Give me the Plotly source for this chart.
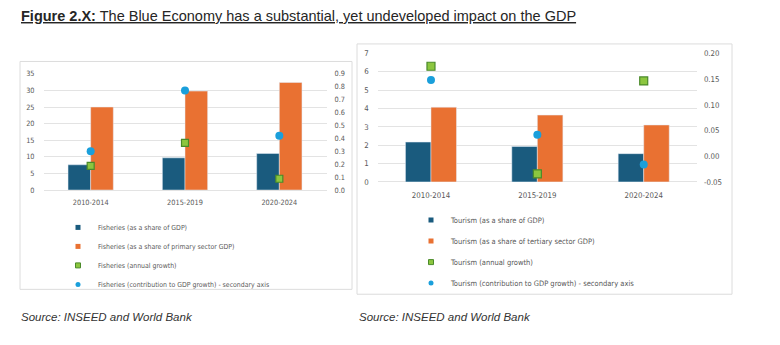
import plotly.graph_objects as go

# ---------------- data ----------------
periods = ["2010-2014", "2015-2019", "2020-2024"]

fish_share_gdp = [7.6, 9.7, 11.0]
fish_share_primary = [25.0, 29.8, 32.4]
fish_growth = [7.3, 14.2, 3.4]
fish_contrib = [0.30, 0.77, 0.42]          # secondary axis

tour_share_gdp = [2.17, 1.93, 1.54]
tour_share_tertiary = [4.07, 3.64, 3.10]
tour_growth = [6.3, 0.44, 5.5]
tour_contrib = [0.148, 0.042, -0.016]      # secondary axis

fish_names = ["Fisheries (as a share of GDP)",
              "Fisheries (as a share of primary sector GDP)",
              "Fisheries (annual growth)",
              "Fisheries (contribution to GDP growth) - secondary axis"]
tour_names = ["Tourism (as a share of GDP)",
              "Tourism (as a share of tertiary sector GDP)",
              "Tourism (annual growth)",
              "Tourism (contribution to GDP growth) - secondary axis"]

# tick labels
fish_y1_ticks = [0, 5, 10, 15, 20, 25, 30, 35]
fish_y2_ticks = [0.0, 0.1, 0.2, 0.3, 0.4, 0.5, 0.6, 0.7, 0.8, 0.9]
fish_y2_text = ["0.0", "0.1", "0.2", "0.3", "0.4", "0.5", "0.6", "0.7", "0.8", "0.9"]
tour_y1_ticks = [0, 1, 2, 3, 4, 5, 6, 7]
tour_y2_ticks = [-0.05, 0.0, 0.05, 0.10, 0.15, 0.20]
tour_y2_text = ["-0.05", "0.00", "0.05", "0.10", "0.15", "0.20"]

title_bold = "Figure 2.X:"
title_rest = "The Blue Economy has a substantial, yet undeveloped impact on the GDP"
source_text = "Source: INSEED and World Bank"

# ---------------- style ----------------
W, H = 780, 345
C_BLUE = "#1A5B7E"
C_ORANGE = "#E97132"
C_GREEN = "#8CC63F"
C_GREEN_LINE = "#4A8A2A"
C_LBLUE = "#1A9FDB"
NARROW = "DejaVu Sans Condensed, Liberation Sans Narrow, sans-serif"
TICK = "#595959"
GRID = "#E3E3E3"


def px_x(v):
    return v / W


def px_y(v):
    return 1 - v / H


fig = go.Figure()

# ---- left chart (fisheries) ----
fig.add_trace(go.Bar(x=periods, y=fish_share_gdp, marker_color=C_BLUE,
                     xaxis="x", yaxis="y", showlegend=False, offsetgroup="a"))
fig.add_trace(go.Bar(x=periods, y=fish_share_primary, marker_color=C_ORANGE,
                     xaxis="x", yaxis="y", showlegend=False, offsetgroup="b"))
fig.add_trace(go.Scatter(x=periods, y=fish_growth, mode="markers", xaxis="x", yaxis="y",
                         marker=dict(symbol="square", size=7, color=C_GREEN,
                                     line=dict(color=C_GREEN_LINE, width=1.2)),
                         showlegend=False))
fig.add_trace(go.Scatter(x=periods, y=fish_contrib, mode="markers", xaxis="x", yaxis="y2",
                         marker=dict(symbol="circle", size=8, color=C_LBLUE),
                         showlegend=False))

# ---- right chart (tourism) ----
fig.add_trace(go.Bar(x=periods, y=tour_share_gdp, marker_color=C_BLUE,
                     xaxis="x2", yaxis="y3", showlegend=False, offsetgroup="a"))
fig.add_trace(go.Bar(x=periods, y=tour_share_tertiary, marker_color=C_ORANGE,
                     xaxis="x2", yaxis="y3", showlegend=False, offsetgroup="b"))
fig.add_trace(go.Scatter(x=periods, y=tour_growth, mode="markers", xaxis="x2", yaxis="y3",
                         marker=dict(symbol="square", size=8, color=C_GREEN,
                                     line=dict(color=C_GREEN_LINE, width=1.2)),
                         showlegend=False))
fig.add_trace(go.Scatter(x=periods, y=tour_contrib, mode="markers", xaxis="x2", yaxis="y4",
                         marker=dict(symbol="circle", size=8, color=C_LBLUE),
                         showlegend=False))

# ---- legend entries ----
leg_markers = [
    dict(symbol="square", size=5, color=C_BLUE),
    dict(symbol="square", size=5, color=C_ORANGE),
    dict(symbol="square", size=5, color=C_GREEN, line=dict(color=C_GREEN_LINE, width=1)),
    dict(symbol="circle", size=5, color=C_LBLUE),
]
for i, (nm, mk) in enumerate(zip(fish_names, leg_markers)):
    fig.add_trace(go.Scatter(x=[None], y=[None], mode="markers", name=nm, marker=mk,
                             xaxis="x", yaxis="y", legend="legend", legendgroup="f%d" % i))
for i, (nm, mk) in enumerate(zip(tour_names, leg_markers)):
    fig.add_trace(go.Scatter(x=[None], y=[None], mode="markers", name=nm, marker=mk,
                             xaxis="x2", yaxis="y3", legend="legend2", legendgroup="t%d" % i))

# ---------------- layout ----------------
yL = [px_y(191), px_y(71.7)]
yR = [px_y(182.7), px_y(50.7)]
FL = dict(size=7.3, color=TICK, family=NARROW)
FR = dict(size=7.8, color=TICK, family=NARROW)

fig.update_layout(
    width=W, height=H,
    margin=dict(l=0, r=0, t=0, b=0),
    paper_bgcolor="white", plot_bgcolor="white",
    barmode="group", bargap=0.52, bargroupgap=0,
    font=dict(family=NARROW, color=TICK),
    xaxis=dict(domain=[px_x(43.5), px_x(326.5)], anchor="y", type="category",
               showgrid=False, showline=False, ticks="", ticklabelstandoff=7, tickfont=FL),
    yaxis=dict(domain=yL, anchor="x", range=[0, 35], tickvals=fish_y1_ticks,
               showgrid=True, gridcolor=GRID, gridwidth=1, zeroline=True,
               zerolinecolor=GRID, zerolinewidth=1, ticks="", ticklabelstandoff=8,
               tickfont=FL),
    yaxis2=dict(overlaying="y", side="right", anchor="x", range=[0, 0.9],
                tickvals=fish_y2_ticks, ticktext=fish_y2_text, showgrid=False,
                zeroline=False, ticks="", ticklabelstandoff=7, tickfont=FL),
    xaxis2=dict(domain=[px_x(377.8), px_x(696.9)], anchor="y3", type="category",
                showgrid=False, showline=False, ticks="", ticklabelstandoff=7, tickfont=FR),
    yaxis3=dict(domain=yR, anchor="x2", range=[0, 7], tickvals=tour_y1_ticks,
                showgrid=True, gridcolor=GRID, gridwidth=1, zeroline=True,
                zerolinecolor=GRID, zerolinewidth=1, ticks="", ticklabelstandoff=8,
                tickfont=FR),
    yaxis4=dict(overlaying="y3", side="right", anchor="x2", range=[-0.05, 0.20],
                tickvals=tour_y2_ticks, ticktext=tour_y2_text, showgrid=False,
                zeroline=False, ticks="", ticklabelstandoff=6, tickfont=FR),
    legend=dict(x=px_x(58), y=px_y(214.5), xanchor="left", yanchor="top",
                orientation="v", bgcolor="rgba(0,0,0,0)", tracegroupgap=0,
                font=dict(size=6.9, color=TICK, family=NARROW), itemwidth=30),
    legend2=dict(x=px_x(411), y=px_y(207), xanchor="left", yanchor="top",
                 orientation="v", bgcolor="rgba(0,0,0,0)", tracegroupgap=2,
                 font=dict(size=7.5, color=TICK, family=NARROW), itemwidth=30),
    shapes=[
        dict(type="rect", xref="paper", yref="paper",
             x0=px_x(20), x1=px_x(352), y0=px_y(293), y1=px_y(59),
             line=dict(color="#DCDCDC", width=1), fillcolor="rgba(0,0,0,0)", layer="below"),
        dict(type="rect", xref="paper", yref="paper",
             x0=px_x(357), x1=px_x(732), y0=px_y(298), y1=px_y(41),
             line=dict(color="#DCDCDC", width=1), fillcolor="rgba(0,0,0,0)", layer="below"),
    ],
    annotations=[
        dict(xref="paper", yref="paper", x=px_x(19), y=px_y(12), xanchor="left",
             yanchor="middle", showarrow=False,
             text="<u><b>%s</b> %s</u>" % (title_bold, title_rest),
             font=dict(family="Liberation Sans, Arial, sans-serif", size=14.5, color="#262626")),
        dict(xref="paper", yref="paper", x=px_x(19), y=px_y(321), xanchor="left",
             yanchor="middle", showarrow=False, text="<i>%s</i>" % source_text,
             font=dict(family="Liberation Sans, Arial, sans-serif", size=11.5, color="#333333")),
        dict(xref="paper", yref="paper", x=px_x(357), y=px_y(321), xanchor="left",
             yanchor="middle", showarrow=False, text="<i>%s</i>" % source_text,
             font=dict(family="Liberation Sans, Arial, sans-serif", size=11.5, color="#333333")),
    ],
)

fig.write_html("out.html")
